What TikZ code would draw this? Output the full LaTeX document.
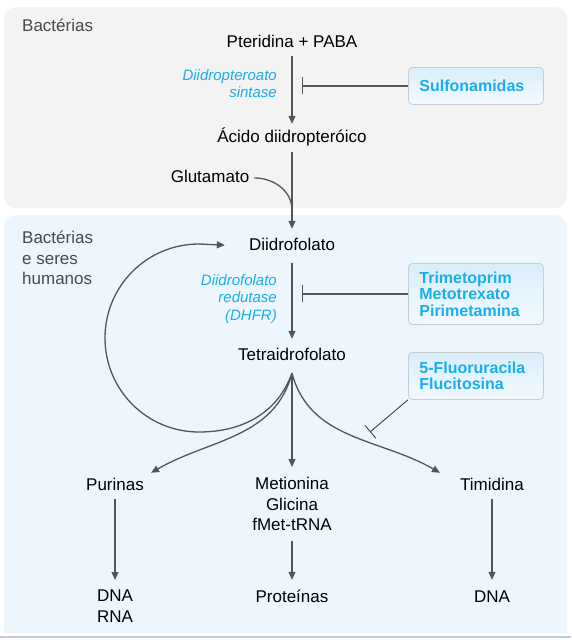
\documentclass[tikz,border=0pt]{standalone}
\usepackage{fontspec}
\setmainfont{Liberation Sans}
\usetikzlibrary{arrows.meta}
\definecolor{linegray}{HTML}{555555}
\definecolor{enzblue}{HTML}{1AAEEA}
\definecolor{panelgray}{HTML}{F3F3F3}
\definecolor{panelblue}{HTML}{EEF6FD}
\definecolor{boxtop}{HTML}{D9EEFB}
\definecolor{boxbot}{HTML}{F2F9FE}
\definecolor{boxline}{HTML}{C8CDD3}
\definecolor{labelgray}{HTML}{4A4A4A}
\begin{document}
\begin{tikzpicture}[x=1pt, y=-1pt,
  metab/.style={font=\fontsize{17}{20.5}\selectfont, inner xsep=5pt, inner ysep=5pt, text height=12pt, text depth=4pt},
  multi/.style={font=\fontsize{17}{20.5}\selectfont, align=center, inner xsep=5pt, inner ysep=10pt, anchor=north},
  enz/.style={font=\fontsize{15}{17.5}\selectfont\itshape, text=enzblue, align=right, inner sep=0pt, anchor=north east},
  drug/.style={draw=boxline, line width=0.8pt, rounded corners=4pt, top color=boxtop, bottom color=boxbot, font=\fontsize{16}{16.5}\selectfont\bfseries, text=enzblue, align=left, text width=113pt, inner xsep=11pt, inner ysep=0pt, anchor=north west},
  region/.style={font=\fontsize{17}{20.5}\selectfont, text=labelgray, align=left, inner sep=0pt, anchor=north west},
  link/.style={draw=linegray, line width=1.3pt},
  arr/.style={link, -{Triangle[length=8pt,width=7pt]}},
  inh/.style={link, -{Bar[width=17pt]}}]
  \useasboundingbox (0,0) rectangle (571,643);
  \fill[panelgray, rounded corners=12pt] (4,7) rectangle (567,208);
  \fill[panelblue] (4,633) [rounded corners=12pt] |- (567,215) -- (567,400) [sharp corners] -- (567,633) -- cycle;
  \draw[boxline, line width=1.5pt] (0,637) -- (571,637);

  \node[region, anchor=base west] (bact) at (22,31) {Bactérias};
  \node[region] (bacthum) at (22,231) {Bactérias\\e seres\\humanos};

  \node[metab] (pter) at (292,43) {Pteridina + PABA};
  \node[metab, inner ysep=6pt] (acido) at (292,138) {Ácido diidropteróico};
  \node[metab] (glut) at (210,178) {Glutamato};
  \node[metab, inner ysep=9pt] (diidro) at (292,246) {Diidrofolato};
  \node[metab, inner ysep=9pt] (tetra) at (292,356) {Tetraidrofolato};
  \node[metab] (purinas) at (115,486) {Purinas};
  \node[multi] (met) at (292,467) {Metionina\\Glicina\\fMet-tRNA};
  \node[metab] (timidina) at (492,486) {Timidina};
  \node[multi] (dnarna) at (115,580) {DNA\\RNA};
  \node[metab, inner ysep=10pt] (prot) at (292,598) {Proteínas};
  \node[metab, inner ysep=10pt] (dna) at (492,598) {DNA};

  \node[enz] (dhps) at (277,69) {Diidropteroato\\sintase};
  \node[enz] (dhfr) at (277,274) {Diidrofolato\\redutase\\(DHFR)};

  \node[drug, minimum height=37pt] (sulf) at (408,67) {Sulfonamidas};
  \node[drug, minimum height=61pt] (tmp) at (408,263) {Trimetoprim\\Metotrexato\\Pirimetamina};
  \node[drug, minimum height=47pt] (fu) at (408,352) {5-Fluoruracila\\Flucitosina};

  \coordinate (gjoin) at (292,210);
  \coordinate (axisbar) at (302,0);
  \coordinate (fuhit) at (370,432);

    \draw[arr] (pter) -- (acido);
    \draw[arr] (acido) -- (diidro);
    \draw[link] (glut.east) to[out=0,in=90] (gjoin);
    \draw[arr] (diidro) -- (tetra);
    \draw[arr] (tetra.south) to[out=-105,in=30] ([xshift=2pt]purinas.north east);
    \draw[arr] (tetra) -- (met);
    \draw[arr] (tetra.south) to[out=-75,in=150] ([xshift=-15pt]timidina.north west);
    \draw[arr, shorten >=19pt] (tetra.south) to[out=-110,in=0] (199,432) to[out=180,in=-90] (105,338) to[out=90,in=180] (199,244) -- (diidro.west);
    \draw[arr] (purinas) -- (dnarna);
    \draw[arr] (met) -- (prot);
    \draw[arr] (timidina) -- (dna);
    \draw[inh] (sulf.west) -- (sulf.west -| axisbar);
    \draw[inh] (tmp.west) -- (tmp.west -| axisbar);
    \draw[inh, line width=0.9pt, draw=black!75] (fu.south west) -- (fuhit);
\end{tikzpicture}
\end{document}
